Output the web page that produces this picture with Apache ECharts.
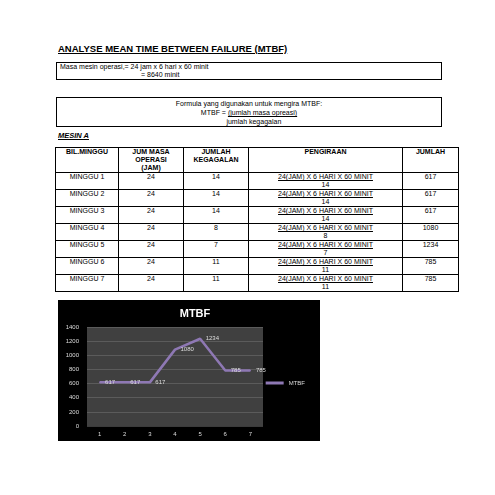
<!DOCTYPE html>
<html><head><meta charset="utf-8">
<script src="https://cdn.jsdelivr.net/npm/echarts@6/dist/echarts.min.js"></script>
<style>
body{margin:0;width:495px;height:495px;background:#fff;font-family:"Liberation Sans",Arial,sans-serif;color:#000;position:relative;overflow:hidden}
.a{position:absolute}
.box{border:1px solid #000;box-sizing:border-box}
table{border-collapse:collapse;table-layout:fixed;font-size:7px}
td,th{border:1px solid #000;padding:0;text-align:center;vertical-align:top;line-height:8px}
th{font-weight:bold}
</style></head><body>
<div class="a" style="left:58px;top:43px;font-size:9.5px;font-weight:bold;text-decoration:underline">ANALYSE MEAN TIME BETWEEN FAILURE (MTBF)</div>
<div class="a box" style="left:56px;top:62px;width:386px;height:18px;font-size:7px;line-height:7.5px;padding-left:3px">Masa mesin operasi,= 24 jam x 6 hari x 60 minit<br><span style="padding-left:81px">= 8640 minit</span></div>
<div class="a box" style="left:56px;top:97px;width:386px;height:30px;font-size:7px;line-height:9px;text-align:center;padding-top:1px">Formula yang digunakan untuk mengira MTBF:<br>MTBF = <u>(jumlah masa opreasi)</u><br>&nbsp;&nbsp;&nbsp;&nbsp;&nbsp;jumlah kegagalan</div>
<div class="a" style="left:58px;top:131px;font-size:7.5px;font-weight:bold;font-style:italic;text-decoration:underline">MESIN A</div>
<table class="a" id="tb" style="left:55px;top:147px;width:403px">
<colgroup><col style="width:63px"><col style="width:65px"><col style="width:65px"><col style="width:154px"><col style="width:56px"></colgroup>
<thead><tr style="height:25px"><th>BIL.MINGGU</th><th>JUM MASA<br>OPERASI<br>(JAM)</th><th>JUMLAH<br>KEGAGALAN</th><th>PENGIRAAN</th><th>JUMLAH</th></tr></thead>
<tbody id="tbody"></tbody></table>
<div class="a" id="chart" style="left:58px;top:300px;width:262px;height:141px"></div>
<script>
const weeks=['MINGGU  1','MINGGU  2','MINGGU  3','MINGGU  4','MINGGU  5','MINGGU  6','MINGGU  7'];
const hours=[24,24,24,24,24,24,24];
const failures=[14,14,14,8,7,11,11];
const mtbf=[617,617,617,1080,1234,785,785];
const xLabels=['1','2','3','4','5','6','7'];
let h='';
weeks.forEach((w,i)=>{h+=`<tr style="height:16px"><td>${w}</td><td>${hours[i]}</td><td>${failures[i]}</td><td><u>24(JAM)  X 6 HARI X 60 MINIT</u><br>${failures[i]}</td><td>${mtbf[i]}</td></tr>`;});
document.getElementById('tbody').innerHTML=h;
const c=echarts.init(document.getElementById('chart'));
c.setOption({
backgroundColor:'#000',
title:{text:'MTBF',left:132,top:3,textAlign:'center',textStyle:{color:'#fff',fontSize:11,fontWeight:'bold'}},
legend:{right:10,top:75,orient:'vertical',itemWidth:18,itemHeight:3,textStyle:{color:'#ddd',fontSize:6},icon:'rect',data:['MTBF']},
grid:{left:29,right:57,top:27,bottom:15,backgroundColor:'#404040',show:true,borderWidth:0},
xAxis:{type:'category',data:xLabels,boundaryGap:true,axisLine:{show:false},axisTick:{show:false},axisLabel:{color:'#ddd',fontSize:6,margin:5}},
yAxis:{type:'value',min:0,max:1400,interval:200,axisLabel:{color:'#ddd',fontSize:6,margin:8,formatter:v=>String(v)},splitLine:{lineStyle:{color:'#777',width:0.5}}},
series:[{name:'MTBF',type:'line',data:mtbf,showSymbol:true,symbol:'circle',symbolSize:1,lineStyle:{color:'#8e78b4',width:2.5},itemStyle:{color:'#8e78b4'},
label:{show:true,position:'right',color:'#ddd',fontSize:6,offset:[-2,2]},labelLayout:{hideOverlap:false}}]
});
</script>
</body></html>
